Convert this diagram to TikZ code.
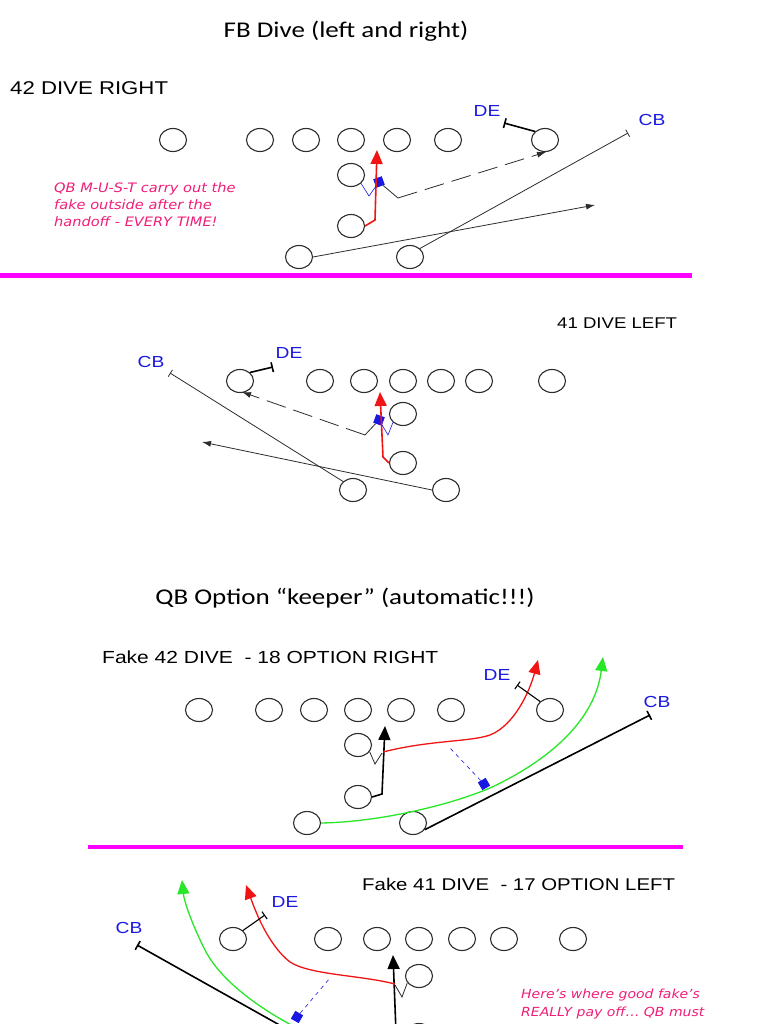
\documentclass[tikz,border=0pt]{standalone}
\usepackage{fontspec}
\setmainfont{Carlito}
\newfontfamily\titlefont[FakeStretch=1.2]{Carlito}
\newfontfamily\playfont[FakeStretch=1.2]{Liberation Sans}
\newfontfamily\notefont[FakeStretch=1.12]{DejaVu Sans}
\usetikzlibrary{arrows.meta}
\usetikzlibrary{shapes.geometric}
\definecolor{fieldpink}{RGB}{255,0,255}
\definecolor{notepink}{RGB}{240,30,120}
\definecolor{runred}{RGB}{240,20,20}
\definecolor{optgreen}{RGB}{40,230,40}
\definecolor{defblue}{RGB}{25,25,225}
\definecolor{lineblack}{RGB}{45,45,45}

\begin{document}
\begin{tikzpicture}[x=1pt,y=-1pt,
	player/.style={ellipse,draw=lineblack,line width=1.1pt,minimum width=27pt,minimum height=23pt,inner sep=0pt},
	handoff/.style={rectangle,fill=defblue,minimum size=9pt,inner sep=0pt},
	playname/.style={font=\playfont\fontsize{17.5}{20}\selectfont,inner sep=0pt},
	defname/.style={font=\playfont\fontsize{16}{18}\selectfont,text=defblue,inner sep=0pt},
	heading/.style={font=\titlefont\fontsize{22.5}{26}\selectfont,inner sep=0pt},
	note/.style={font=\notefont\itshape\fontsize{13}{17}\selectfont,text=notepink,align=left,inner sep=0pt},
	thin/.style={lineblack,line width=0.8pt},
	route/.style={line width=1.6pt,-{Triangle[length=14pt,width=12pt]}},
	pass/.style={thin,-{Latex[length=9pt,width=6pt]}},
	fake/.style={pass,dash pattern=on 20pt off 8pt},
	block/.style={line width=1.6pt,-{Bar[width=10pt]}},
	read/.style={defblue,line width=0.6pt,dash pattern=on 4pt off 4pt},
	yardline/.style={fieldpink,line width=5pt}]

	\fill[white] (0,0) rectangle (768,1024);
	\useasboundingbox (0,0) rectangle (768,1024);
	\clip (0,0) rectangle (768,1024);

	\node[heading] (title1) at (346,31) {FB Dive (left and right)};
	\node[heading] (title2) at (345,598) {QB Option “keeper” (automatic!!!)};

	% 42 dive right
	\node[playname,anchor=west,font=\playfont\fontsize{18.5}{20}\selectfont] (play1) at (10,88) {42 DIVE RIGHT};
	\foreach \x [count=\i] in {173,260,306,351,397,448,545}
		\node[player] (a\i) at (\x,140) {};
	\node[player] (aqb) at (351,175) {};
	\node[player] (afb) at (351,226) {};
	\node[player] (ahl) at (299,257) {};
	\node[player] (ahr) at (410,257) {};
	\node[handoff,rotate=20] (asq) at (379,182) {};
	\node[defname] (ade) at (487,111) {DE};
	\node[defname] (acb) at (652,120) {CB};
	\node[note,anchor=north west] (anote) at (54,182) {QB M-U-S-T carry out the\\fake outside after the\\handoff - EVERY TIME!};
	\draw[route,runred] (afb.east) -- (375,220) -- (377,150);
	\draw[defblue,line width=0.6pt] (aqb.-40) -- (369,196) -- (asq);
	\draw[thin] (asq) -- (398,198);
	\draw[fake] (398,198) -- (546,152);
	\draw[block] (a7.north west) -- (504,123);
	\draw[thin,-{Bar[width=8pt]}] (ahr.north east) -- (628,133);
	\draw[pass] (ahl.east) -- (595,205);
	\draw[yardline] (0,275) -- (692,275);

	% 41 dive left
	\node[playname,anchor=west,font=\playfont\fontsize{15.5}{18}\selectfont] (play2) at (557,323) {41 DIVE LEFT};
	\foreach \x [count=\i] in {240,320,364,403,441,479,552}
		\node[player] (b\i) at (\x,381) {};
	\node[player] (bqb) at (403,414) {};
	\node[player] (bfb) at (403,463) {};
	\node[player] (bhl) at (353,490) {};
	\node[player] (bhr) at (446,490) {};
	\node[handoff,rotate=-20] (bsq) at (379,420) {};
	\node[defname] (bde) at (289,353) {DE};
	\node[defname] (bcb) at (151,362) {CB};
	\draw[route,runred] (bfb.west) -- (383,457) -- (380,392);
	\draw[defblue,line width=0.6pt] (bsq) -- (388,435) -- (bqb.-140);
	\draw[thin] (bsq) -- (365,435);
	\draw[fake] (365,435) -- (242,392);
	\draw[block] (b1.north east) -- (273,367);
	\draw[thin,-{Bar[width=8pt]}] (bhl.north west) -- (170,373);
	\draw[pass] (bhr.west) -- (202,442);

	% fake 42 dive - 18 option right
	\node[playname,anchor=west] (play3) at (102,657) {Fake 42 DIVE \ - 18 OPTION RIGHT};
	\foreach \x [count=\i] in {199,269,314,358,401,451,550}
		\node[player] (c\i) at (\x,710) {};
	\node[player] (cqb) at (358,745) {};
	\node[player] (cfb) at (358,797) {};
	\node[player] (chl) at (307,823) {};
	\node[player] (chr) at (413,823) {};
	\node[handoff,rotate=30] (csq) at (484,784) {};
	\node[defname] (cde) at (497,675) {DE};
	\node[defname] (ccb) at (657,702) {CB};
	\draw[route] (cfb.east) -- (382,794) -- (385,726);
	\draw[thin] (cqb.-30) -- (375,764) -- (382,753);
	\draw[route,runred,line width=1.3pt] (383,752) .. controls (430,740) and (470,742) .. (490,735)
		.. controls (515,725) and (530,690) .. (538,660);
	\draw[route,optgreen,line width=1.3pt] (chl.east) .. controls (380,822) and (450,805) .. (490,788)
		.. controls (550,760) and (595,720) .. (603,657);
	\draw[read] (csq) -- (450,748);
	\draw[block] (chr.-30) -- (650,715);
	\draw[line width=1.1pt,-{Bar[width=9pt]}] (c7.north west) -- (517,685);
	\draw[yardline,line width=4pt] (88,847) -- (683,847);

	% fake 41 dive - 17 option left
	\node[playname,anchor=west,font=\playfont\fontsize{17}{20}\selectfont] (play4) at (362,884) {Fake 41 DIVE \ - 17 OPTION LEFT};
	\foreach \x [count=\i] in {233,328,377,419,462,504,573}
		\node[player] (d\i) at (\x,939) {};
	\node[player] (dqb) at (419,976) {};
	\node[player] (dfb) at (419,1035) {};
	\coordinate (dhl) at (305,1032);
	\coordinate (dhr) at (292,1032);
	\node[handoff,rotate=-30] (dsq) at (297,1017) {};
	\node[defname] (dde) at (285,902) {DE};
	\node[defname] (dcb) at (129,928) {CB};
	\node[note,anchor=north west,font=\notefont\itshape\fontsize{12.5}{18}\selectfont] (dnote) at (521,989) {Here’s where good fake’s\\REALLY pay off… QB must};
	\draw[route] (dfb.west) -- (396,1032) -- (393,955);
	\draw[thin] (395,985) -- (402,997) -- (dqb.-150);
	\draw[route,runred,line width=1.3pt] (395,984) .. controls (360,975) and (310,975) .. (290,962)
		.. controls (268,945) and (255,910) .. (246,885);
	\draw[route,optgreen,line width=1.3pt] (dhl) .. controls (260,1010) and (220,980) .. (205,950)
		.. controls (190,920) and (184,900) .. (182,880);
	\draw[read] (dsq) -- (330,978);
	\draw[block] (dhr) -- (137,945);
	\draw[line width=1.1pt,-{Bar[width=9pt]}] (d1.north east) -- (265,915);
\end{tikzpicture}
\end{document}
